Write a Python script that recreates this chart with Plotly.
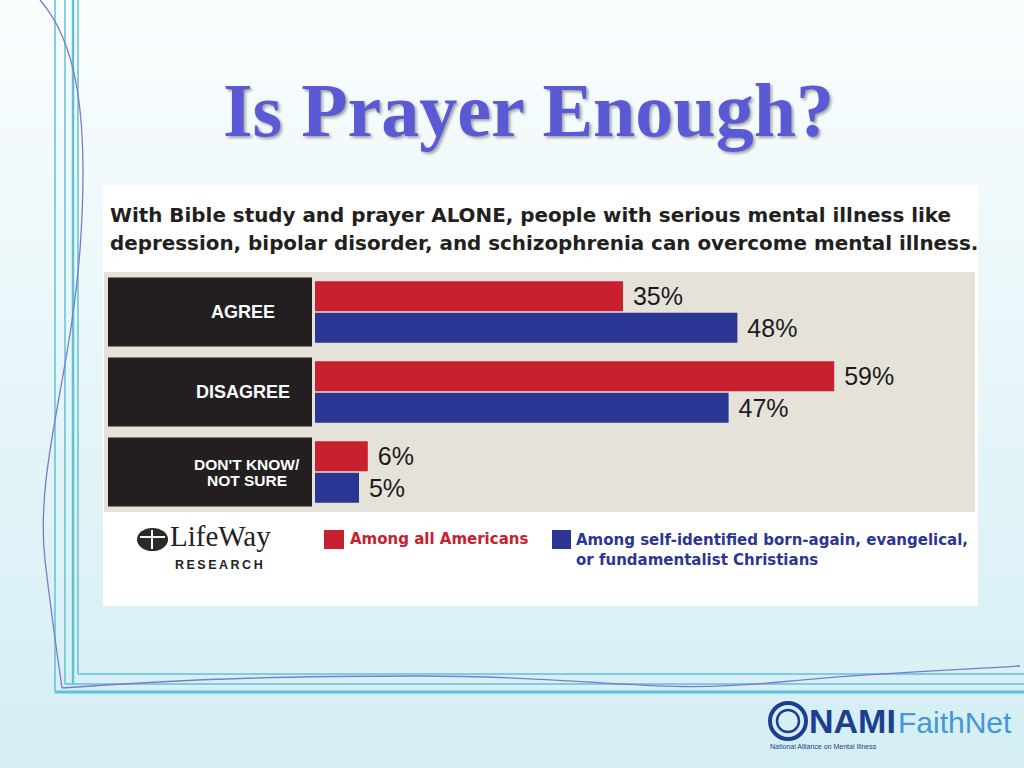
import plotly.graph_objects as go

# ---- data ----
categories = ["AGREE", "DISAGREE", "DON'T KNOW/<br>NOT SURE"]
all_americans = [35, 59, 6]
born_again = [48, 47, 5]
series_names = ["Among all Americans",
                "Among self-identified born-again, evangelical,<br>or fundamentalist Christians"]
subtitle_lines = ["With Bible study and prayer ALONE, people with serious mental illness like",
                  "depression, bipolar disorder, and schizophrenia can overcome mental illness."]

RED = "#c8202f"
BLUE = "#2b3593"
BEIGE = "#e4e2d9"
BLACK = "#231f20"

W, H = 1024, 768
def px(x): return x / W
def py(y): return 1 - y / H

fig = go.Figure()
ypos = list(range(len(categories)))
for vals, col, nm in [(all_americans, RED, series_names[0]), (born_again, BLUE, series_names[1])]:
    fig.add_trace(go.Bar(y=ypos, x=vals, orientation="h", marker=dict(color=col, line=dict(width=0)),
                         text=[f"\u00a0{v}%" for v in vals], textposition="outside",
                         textfont=dict(size=25, color="#1e1a1b", family="Liberation Sans"),
                         cliponaxis=False, name=nm, showlegend=False))

shapes = []
# background gradient bands (decorative)
def lerp(c1, c2, t):
    return "rgb(%d,%d,%d)" % tuple(round(a + (b - a) * t) for a, b in zip(c1, c2))
top_c, bot_c = (250, 253, 254), (212, 238, 244)
nb = 48
for i in range(nb):
    t = i / (nb - 1)
    shapes.append(dict(type="rect", xref="paper", yref="paper", x0=0, x1=1,
                       y0=py(H * (i + 1) / nb) - 0.001, y1=py(H * i / nb),
                       fillcolor=lerp(top_c, bot_c, t), line=dict(width=0), layer="below"))
# decorative frame lines
frame = "#5cc3d6"
for x, w, end in [(55, 1.5, 692), (65, 1.5, 684), (73, 2.5, 684), (78, 1.5, 674)]:
    shapes.append(dict(type="line", xref="paper", yref="paper", x0=px(x), x1=px(x), y0=py(0), y1=py(end),
                       line=dict(color=frame, width=w), layer="below"))
for y, x0, w in [(674, 78, 1.5), (684, 65, 1.5), (692, 55, 3)]:
    shapes.append(dict(type="line", xref="paper", yref="paper", x0=px(x0), x1=1, y0=py(y), y1=py(y),
                       line=dict(color=frame, width=w), layer="below"))
# purple wavy lines
def path(pts):
    s = "M %f,%f" % (px(pts[0][0]), py(pts[0][1]))
    for i in range(1, len(pts) - 2, 3):
        s += " C %f,%f %f,%f %f,%f" % (px(pts[i][0]), py(pts[i][1]), px(pts[i+1][0]), py(pts[i+1][1]),
                                        px(pts[i+2][0]), py(pts[i+2][1]))
    return s
shapes.append(dict(type="path", xref="paper", yref="paper",
                   path=path([(40, 0), (75, 40), (90, 110), (80, 250),
                              (70, 380), (35, 470), (45, 560),
                              (52, 620), (58, 660), (62, 688)]),
                   line=dict(color="#7d78d0", width=1.3), layer="below"))
shapes.append(dict(type="path", xref="paper", yref="paper",
                   path=path([(62, 688), (200, 678), (300, 676), (420, 676),
                              (600, 676), (650, 695), (780, 682),
                              (880, 672), (960, 670), (1020, 666)]),
                   line=dict(color="#7d78d0", width=1.3), layer="below"))
# white panel
shapes.append(dict(type="rect", xref="paper", yref="paper", x0=px(103), x1=px(978), y0=py(606), y1=py(186),
                   fillcolor="white", line=dict(width=0), layer="below"))
# beige chart area
shapes.append(dict(type="rect", xref="paper", yref="paper", x0=px(104), x1=px(975), y0=py(512), y1=py(272),
                   fillcolor=BEIGE, line=dict(width=0), layer="below"))
# black category boxes
for i in ypos:
    shapes.append(dict(type="rect", xref="paper", yref="y", x0=px(108), x1=px(312), y0=i - 0.43, y1=i + 0.43,
                       fillcolor=BLACK, line=dict(width=0), layer="below"))
# legend swatches
shapes.append(dict(type="rect", xref="paper", yref="paper", x0=px(324), x1=px(344), y0=py(549), y1=py(530),
                   fillcolor=RED, line=dict(width=0)))
shapes.append(dict(type="rect", xref="paper", yref="paper", x0=px(552), x1=px(571), y0=py(549), y1=py(530),
                   fillcolor=BLUE, line=dict(width=0)))
# LifeWay icon
shapes.append(dict(type="circle", xref="paper", yref="paper", x0=px(137), x1=px(168), y0=py(551), y1=py(528),
                   fillcolor="#2a2a2a", line=dict(width=0)))
shapes.append(dict(type="line", xref="paper", yref="paper", x0=px(152), x1=px(152), y0=py(549), y1=py(530),
                   line=dict(color="white", width=2)))
shapes.append(dict(type="line", xref="paper", yref="paper", x0=px(140), x1=px(165), y0=py(537), y1=py(537),
                   line=dict(color="white", width=2)))
# NAMI icon
shapes.append(dict(type="circle", xref="paper", yref="paper", x0=px(770), x1=px(806), y0=py(739), y1=py(703),
                   fillcolor="rgba(0,0,0,0)", line=dict(color="#1d3f8f", width=4)))
shapes.append(dict(type="circle", xref="paper", yref="paper", x0=px(777), x1=px(799), y0=py(732), y1=py(710),
                   fillcolor="rgba(0,0,0,0)", line=dict(color="#1d3f8f", width=2.5)))

annotations = []
annotations.append(dict(text="<b>Is Prayer Enough?</b>", xref="paper", yref="paper", x=px(528), y=py(110),
                        xanchor="center", yanchor="middle", showarrow=False,
                        font=dict(family="Liberation Serif", size=76, color="#5a5ad4",
                                  shadow="2px 2px 3px rgba(0,0,0,0.35)")))
for k, ln in enumerate(subtitle_lines):
    annotations.append(dict(text=f"<b>{ln}</b>", xref="paper", yref="paper", x=px(108), y=py(215 + 29 * k),
                            xanchor="left", yanchor="middle", showarrow=False,
                            font=dict(family="DejaVu Sans", size=19.9, color="#231f20")))
for i, c in enumerate(categories):
    lines = c.split("<br>")
    if len(lines) == 1:
        annotations.append(dict(text=f"<b>{c}</b>", xref="paper", yref="y", x=px(243), y=i,
                                xanchor="center", yanchor="middle", showarrow=False,
                                font=dict(family="Liberation Sans", size=18, color="white")))
    else:
        for k, ln in enumerate(lines):
            annotations.append(dict(text=f"<b>{ln}</b>", xref="paper", yref="y", x=px(247),
                                    y=i + (k - (len(lines) - 1) / 2) * 0.2,
                                    xanchor="center", yanchor="middle", showarrow=False,
                                    font=dict(family="Liberation Sans", size=15.5, color="white")))
annotations.append(dict(text=f"<b>{series_names[0]}</b>", xref="paper", yref="paper", x=px(348), y=py(539),
                        xanchor="left", yanchor="middle", showarrow=False,
                        font=dict(family="DejaVu Sans", size=15, color=RED)))
annotations.append(dict(text=f"<b>{series_names[1]}</b>", xref="paper", yref="paper", x=px(574), y=py(529),
                        xanchor="left", yanchor="top", align="left", showarrow=False,
                        font=dict(family="DejaVu Sans", size=15, color=BLUE)))
annotations.append(dict(text="LifeWay", xref="paper", yref="paper", x=px(168), y=py(536),
                        xanchor="left", yanchor="middle", showarrow=False,
                        font=dict(family="Liberation Serif", size=29, color="#222")))
annotations.append(dict(text="<b>R\u2009E\u2009S\u2009E\u2009A\u2009R\u2009C\u2009H</b>", xref="paper", yref="paper",
                        x=px(219), y=py(565), xanchor="center", yanchor="middle", showarrow=False,
                        font=dict(family="Liberation Sans", size=12.5, color="#222")))
annotations.append(dict(text="<b>NAMI</b>", xref="paper", yref="paper", x=px(807), y=py(721),
                        xanchor="left", yanchor="middle", showarrow=False,
                        font=dict(family="Liberation Sans", size=34, color="#1d3f8f")))
annotations.append(dict(text="FaithNet", xref="paper", yref="paper", x=px(896), y=py(722),
                        xanchor="left", yanchor="middle", showarrow=False,
                        font=dict(family="Liberation Sans", size=30, color="#4397d8")))
annotations.append(dict(text="National Alliance on Mental Illness", xref="paper", yref="paper", x=px(768),
                        y=py(746), xanchor="left", yanchor="middle", showarrow=False,
                        font=dict(family="Liberation Sans", size=7, color="#1d3f8f")))

fig.update_layout(
    width=W, height=H, margin=dict(l=0, r=0, t=0, b=0),
    paper_bgcolor="white", plot_bgcolor="rgba(0,0,0,0)",
    barmode="group", bargap=0.21, bargroupgap=0.05,
    xaxis=dict(domain=[px(315), px(975)], range=[0, 75], visible=False, fixedrange=True),
    yaxis=dict(domain=[py(512), py(272)], range=[2.5, -0.5], visible=False, fixedrange=True),
    shapes=shapes, annotations=annotations, showlegend=False,
)
fig.write_html("out.html")
